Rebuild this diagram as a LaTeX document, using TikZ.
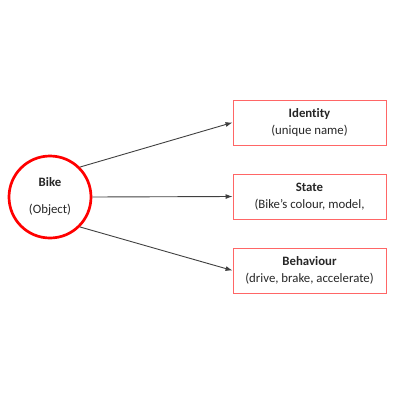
\documentclass[tikz,border=0pt]{standalone}
\usepackage{fontspec}
\setmainfont[Ligatures=NoCommon]{Carlito}
\usetikzlibrary{arrows.meta}

\begin{document}
\begin{tikzpicture}[
x=1pt, y=-1pt,
obj/.style={circle, draw=red, line width=2.7pt, minimum size=82pt, inner sep=0pt, align=center, font=\fontsize{12.8}{16}\selectfont, text=black!85},
part/.style={draw=red!60, line width=0.9pt, minimum width=153pt, minimum height=45pt, inner sep=0pt, align=center, font=\fontsize{12.8}{17}\selectfont, text=black!85},
link/.style={draw=black!75, line width=0.9pt, -{Latex[length=7pt,width=5pt]}}
]

% canvas
\useasboundingbox (0,0) rectangle (400,400);

% ---------- OBJECT ----------
\node[obj] (bike) at (50,197) {\textbf{Bike}\\[11pt](Object)};

% ---------- PARTS ----------
\node[part] (ident) at (309.5,122.5) {\textbf{Identity}\\(unique name)};
\node[part] (state) at (309.5,196.5) {\textbf{State}\\(Bike’s colour, model,};
\node[part] (behav) at (309.5,270.5) {\textbf{Behaviour}\\(drive, brake, accelerate)};

% connections
\draw[link] (bike.45) -- (ident.west);
\draw[link] (bike.east) -- (state.west);
\draw[link] (bike.-45) -- (behav.west);

\end{tikzpicture}
\end{document}
